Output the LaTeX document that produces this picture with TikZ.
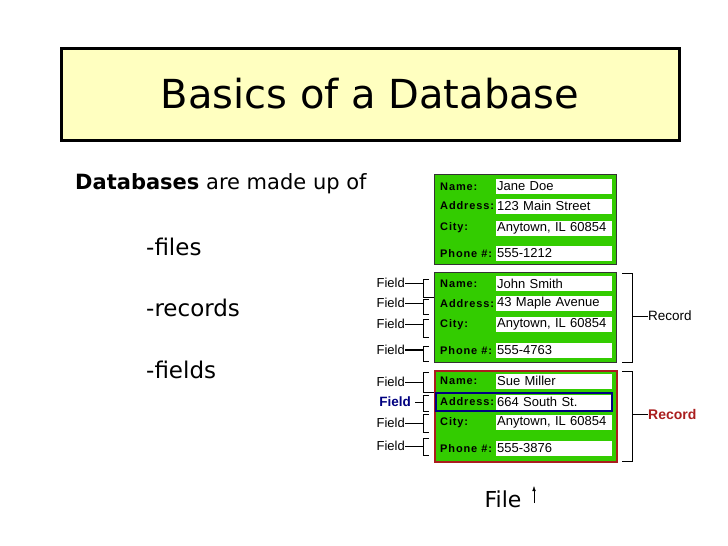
\documentclass[tikz,border=0pt]{standalone}
\usepackage{fontspec}
\setmainfont{Liberation Sans}
\newfontfamily\comic{DejaVu Sans}
\newfontfamily\tagfont{Liberation Sans}[LetterSpace=8]
\usetikzlibrary{arrows.meta}

\definecolor{titleyellow}{RGB}{255,255,192}
\definecolor{recgreen}{RGB}{51,204,0}
\definecolor{recred}{RGB}{170,30,30}
\definecolor{fieldblue}{RGB}{0,0,128}

\tikzset{
  titlebox/.style={draw, line width=3pt, fill=titleyellow},
  recbox/.style={draw=black!80, line width=1pt, fill=recgreen, minimum width=182pt, minimum height=90pt, anchor=north west},
  fname/.style={anchor=west, inner sep=0pt, font=\tagfont\bfseries\fontsize{11}{13}\selectfont},
  fval/.style={anchor=west, fill=white, text width=114pt, align=left, minimum height=15pt, inner xsep=1pt, inner ysep=0pt, font=\fontsize{13}{15}\selectfont},
  ftag/.style={anchor=east, inner sep=0pt, font=\fontsize{13}{15}\selectfont},
  rtag/.style={anchor=west, inner sep=0pt, font=\fontsize{13.5}{15}\selectfont},
  bracket/.style={line width=0.8pt},
  bigtext/.style={anchor=west, inner sep=0pt, font=\comic\fontsize{21}{25}\selectfont},
  listitem/.style={anchor=west, inner sep=0pt, font=\comic\fontsize{23}{27}\selectfont},
}

\begin{document}
\begin{tikzpicture}[x=1pt,y=-1pt]
            \fill[white] (0,0) rectangle (728,546);
            \useasboundingbox (0,0) rectangle (728,546);

            % title
            \node[titlebox, minimum width=618pt, minimum height=92pt, font=\comic\fontsize{40}{48}\selectfont] (T) at (370,94) {Basics of a Database};

            % left text
            \node[bigtext] (intro) at (75,184) {\textbf{Databases} are made up of};
            \node[listitem] (files) at (146,247) {-files};
            \node[listitem] (records) at (146,308) {-records};
            \node[listitem] (fields) at (146,370) {-fields};

            % first record
            \node[recbox] (R1) at (434,174) {};
            \node[fname] (N11) at (440,186.5) {Name:};
            \node[fname] (N12) at (440,206) {Address:};
            \node[fname] (N13) at (440,228) {City:};
            \node[fname] (N14) at (440,253.5) {Phone \#:};
            \node[fval] (V11) at (496,186.5) {Jane Doe};
            \node[fval] (V12) at (496,206) {123 Main Street};
            \node[fval] (V13) at (496,228) {Anytown, IL 60854};
            \node[fval] (V14) at (496,253.5) {555-1212};

            % second record
            \node[recbox] (R2) at (434,272) {};
            \node[fname] (N21) at (440,283.5) {Name:};
            \node[fname] (N22) at (440,303.5) {Address:};
            \node[fname] (N23) at (440,324.5) {City:};
            \node[fname] (N24) at (440,350.5) {Phone \#:};
            \node[fval] (V21) at (496,283.5) {John Smith};
            \node[fval] (V22) at (496,303.5) {43 Maple Avenue};
            \node[fval] (V23) at (496,324.5) {Anytown, IL 60854};
            \node[fval] (V24) at (496,350.5) {555-4763};

            % third record
            \node[recbox, draw=recred, line width=2pt, minimum height=91pt] (R3) at (434,370) {};
            \node[fname] (N31) at (440,381) {Name:};
            \node[fname] (N32) at (440,402) {Address:};
            \node[fname] (N33) at (440,422.5) {City:};
            \node[fname] (N34) at (440,448.5) {Phone \#:};
            \node[fval] (V31) at (496,381) {Sue Miller};
            \node[fval] (V32) at (496,402) {664 South St.};
            \node[fval] (V33) at (496,422.5) {Anytown, IL 60854};
            \node[fval] (V34) at (496,448.5) {555-3876};
            \draw[fieldblue, line width=2pt] (436,393) rectangle (612,411);

            % field tags, second record
            \node[ftag] (F21) at (405,283) {Field};
            \node[ftag] (F22) at (405,303) {Field};
            \node[ftag] (F23) at (405,324) {Field};
            \node[ftag] (F24) at (405,350) {Field};
            \coordinate (B21) at (423,283);
            \coordinate (B22) at (423,303);
            \coordinate (B23) at (423,324);
            \coordinate (B24) at (423,350);
            \draw (F21) -- (B21);
            \draw (F22) -- (B22);
            \draw (F23) -- (B23);
            \draw[line width=1.5pt] (F24) -- (B24);
            \draw[bracket] (429,279) -- (423,279) -- (423,297) -- (434,297);
            \draw[bracket] (429,299) -- (423,299) -- (423,314) -- (429,314);
            \draw[bracket] (429,319) -- (423,319) -- (423,337) -- (429,337);
            \draw[bracket] (429,346) -- (423,346) -- (423,361) -- (429,361);

            % field tags, third record
            \node[ftag] (F31) at (405,382) {Field};
            \node[ftag, text=fieldblue, font=\bfseries\fontsize{13.5}{15}\selectfont] (F32) at (411,402) {Field};
            \node[ftag] (F33) at (405,423) {Field};
            \node[ftag] (F34) at (405,446) {Field};
            \coordinate (B31) at (423,382);
            \coordinate (B32) at (423,402);
            \coordinate (B33) at (423,423);
            \coordinate (B34) at (423,446);
            \draw (F31) -- (B31);
            \draw[shorten <=4pt] (F32) -- (B32);
            \draw (F33) -- (B33);
            \draw (F34) -- (B34);
            \draw[bracket] (429,372) -- (423,372) -- (423,392) -- (434,392);
            \draw[bracket] (429,395) -- (423,395) -- (423,411) -- (429,411);
            \draw[bracket] (429,414) -- (423,414) -- (423,432) -- (429,432);
            \draw[bracket] (429,438) -- (423,438) -- (423,455) -- (429,455);

            % record brackets
            \draw[bracket] (622,273) -- (632,273) -- (632,362) -- (622,362);
            \draw[bracket] (622,371) -- (632,371) -- (632,461) -- (622,461);
            \coordinate (S2) at (632,316);
            \coordinate (S3) at (632,414);
            \node[rtag] (rec2) at (648,316) {Record};
            \node[rtag, text=recred, font=\bfseries\fontsize{14}{16}\selectfont] (rec3) at (648,414) {Record};
            \draw (S2) -- (rec2);
            \draw (S3) -- (rec3);

            % file
            \node[font=\comic\fontsize{22}{26}\selectfont] (file) at (503,499) {File};
            \coordinate (fa) at (534,503);
            \coordinate (fb) at (534,486);
            \draw[-{Latex[length=5pt,width=3.5pt]}] (fa) -- (fb);
        \end{tikzpicture}
\end{document}
